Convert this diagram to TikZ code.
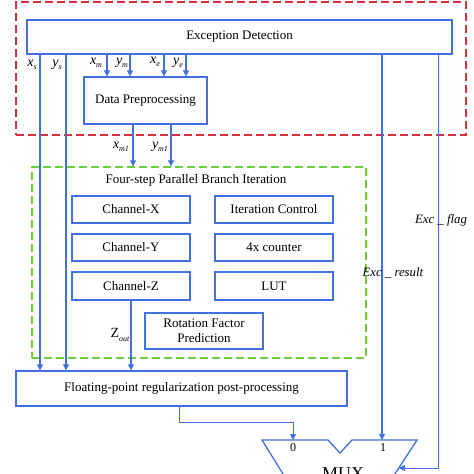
\documentclass[tikz,border=0pt]{standalone}
\usepackage{fontspec}
\setmainfont{Liberation Serif}
\usetikzlibrary{arrows.meta}
\definecolor{lblue}{RGB}{66,112,222}
\definecolor{dred}{RGB}{214,50,60}
\definecolor{lgreen}{RGB}{110,205,60}
\newcommand{\sv}[2]{\textit{#1}\raisebox{-0.5ex}{\footnotesize\textit{#2}}}
\begin{document}
\begin{tikzpicture}[x=1pt,y=-1pt,
  box/.style={draw=lblue, line width=1.3pt, rectangle, inner sep=0pt, font=\fontsize{13}{14}\selectfont, align=center},
  wire/.style={draw=lblue, line width=1.1pt},
  thinwire/.style={draw=lblue, line width=0.7pt},
  arr/.style={-{Triangle[length=6pt,width=6pt]}},
  lab/.style={font=\fontsize{14}{16}\selectfont, inner sep=0pt},
  reddash/.style={draw=dred, line width=1.6pt, dash pattern=on 8pt off 4pt, rectangle, inner sep=0pt},
  greendash/.style={draw=lgreen, line width=1.4pt, dash pattern=on 8pt off 4pt, rectangle, inner sep=0pt}]
\useasboundingbox (0,0) rectangle (474,474);
\clip (0,0) rectangle (474,474);
% frames
\node[reddash, minimum width=450pt, minimum height=133pt] (red) at (241,68.5) {};
\node[greendash, minimum width=334pt, minimum height=191pt] (green) at (199,262.5) {};
% boxes
\node[box, minimum width=425pt, minimum height=34pt] (ed) at (239.5,37) {Exception Detection};
\node[box, minimum width=123pt, minimum height=47pt] (dp) at (145.5,100.5) {Data Preprocessing};
\node[font=\fontsize{13}{14}\selectfont] (title) at (196,180) {Four-step Parallel Branch Iteration};
\node[box, minimum width=118pt, minimum height=27pt] (cx) at (131,209.5) {Channel-X};
\node[box, minimum width=118pt, minimum height=27pt] (ic) at (274,209.5) {Iteration Control};
\node[box, minimum width=118pt, minimum height=27pt] (cy) at (131,247.5) {Channel-Y};
\node[box, minimum width=118pt, minimum height=27pt] (cnt) at (274,247.5) {4x counter};
\node[box, minimum width=118pt, minimum height=28pt] (cz) at (131,286) {Channel-Z};
\node[box, minimum width=118pt, minimum height=28pt] (lut) at (274,286) {LUT};
\node[box, minimum width=118pt, minimum height=36pt, font=\fontsize{13}{15}\selectfont] (rfp) at (204,331) {Rotation Factor\\Prediction};
\node[box, minimum width=331pt, minimum height=35pt] (fp) at (181.5,388.5) {Floating-point regularization post-processing};
% MUX
\coordinate (m1) at (262,440);
\coordinate (m2) at (328,440);
\coordinate (m3) at (340,453);
\coordinate (m4) at (352,440);
\coordinate (m5) at (417,440);
\coordinate (m6) at (378,500);
\coordinate (m7) at (299,500);
\draw[lblue, line width=1.3pt, line join=miter] (m1) -- (m2) -- (m3) -- (m4) -- (m5) -- (m6) -- (m7) -- cycle;
\node[anchor=base, font=\fontsize{18}{20}\selectfont, inner sep=0pt] (muxlab) at (343,479) {MUX};
\node[font=\fontsize{12}{13}\selectfont, inner sep=0pt] (in0) at (293,448) {0};
\node[font=\fontsize{12}{13}\selectfont, inner sep=0pt] (in1) at (383,448) {1};
\coordinate (mux0) at (293,440);
\coordinate (mux1) at (382,440);
\coordinate (muxf) at (399,468);
% x positions
\coordinate (cxs) at (40,0);
\coordinate (cys) at (66,0);
\coordinate (cxm) at (107,0);
\coordinate (cym) at (130,0);
\coordinate (cxe) at (164,0);
\coordinate (cye) at (186,0);
\coordinate (cxm1) at (133,0);
\coordinate (cym1) at (171,0);
\coordinate (cres) at (382,0);
\coordinate (cflag) at (438,0);
\coordinate (czo) at (131,0);
\coordinate (cfo) at (179,0);
% wires
\draw[wire,arr] (ed.south -| cxs) -- (fp.north -| cxs);
\draw[wire,arr] (ed.south -| cys) -- (fp.north -| cys);
\draw[wire,arr] (ed.south -| cxm) -- (dp.north -| cxm);
\draw[wire,arr] (ed.south -| cym) -- (dp.north -| cym);
\draw[wire,arr] (ed.south -| cxe) -- (dp.north -| cxe);
\draw[wire,arr] (ed.south -| cye) -- (dp.north -| cye);
\draw[wire,arr] (dp.south -| cxm1) -- (green.north -| cxm1);
\draw[wire,arr] (dp.south -| cym1) -- (green.north -| cym1);
\draw[wire,arr] (cz.south -| czo) -- (fp.north -| czo);
\draw[thinwire,arr] (fp.south -| cfo) -- ++(0,16) -| (mux0);
\draw[wire,arr] (ed.south -| cres) -- (mux1);
\draw[thinwire,arr] (ed.south -| cflag) |- (muxf);
% labels
\node[lab] (lxs) at (32,65) {\sv{x}{s}};
\node[lab] (lys) at (57,65) {\sv{y}{s}};
\node[lab] (lxm) at (96,63) {\sv{x}{m}};
\node[lab] (lym) at (122,63) {\sv{y}{m}};
\node[lab] (lxe) at (155,62) {\sv{x}{e}};
\node[lab] (lye) at (178,63) {\sv{y}{e}};
\node[lab] (lxm1) at (121,147) {\sv{x}{m1}};
\node[lab] (lym1) at (160,147) {\sv{y}{m1}};
\node[lab] (lzo) at (120,335) {Z\raisebox{-0.5ex}{\footnotesize\textit{out}}};
\node[lab, font=\fontsize{12.8}{14}\selectfont] (lres) at (393,273) {\textit{Exc \_ result}};
\node[lab, font=\fontsize{12.8}{14}\selectfont] (lflag) at (441,220) {\textit{Exc \_ flag}};
\end{tikzpicture}
\end{document}
